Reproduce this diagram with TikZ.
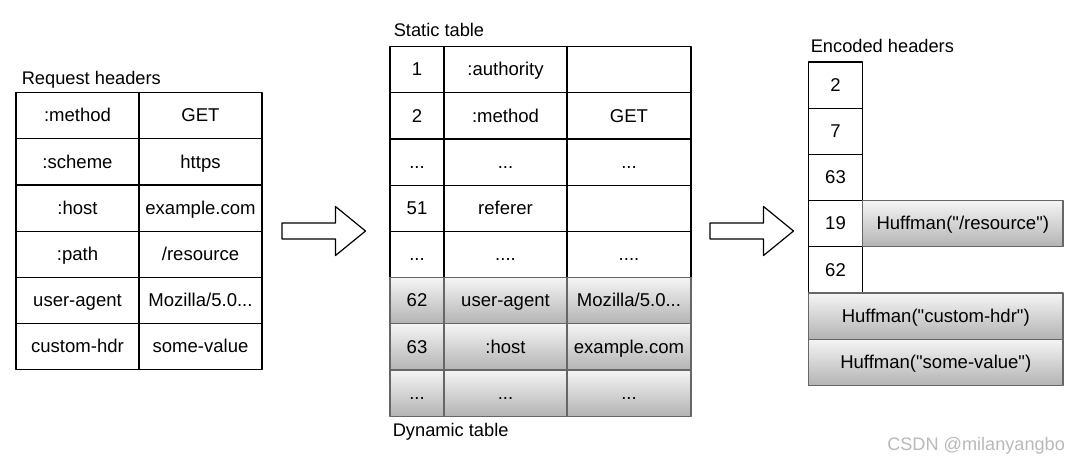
\documentclass[tikz,border=0pt]{standalone}
\usepackage{fontspec}
\setmainfont{Liberation Sans}[Ligatures=TeXOff]
\usetikzlibrary{positioning}
\definecolor{dyntop}{HTML}{F5F5F5}
\definecolor{dynbot}{HTML}{B3B3B3}
\definecolor{dynline}{HTML}{666666}
\newcommand{\tdots}{...}
\newcommand{\qdots}{....}
\tikzset{
  cell/.style={draw,line width=0.9pt,minimum height=34.65pt,inner sep=0pt,outer sep=0pt,text height=9.9pt,text depth=0.6pt,font=\fontsize{13.9}{16}\selectfont},
  dyncell/.style={cell,draw=dynline,top color=dyntop,bottom color=dynbot},
  tabtitle/.style={anchor=base west,inner sep=0pt,font=\fontsize{13.7}{16}\selectfont},
}
\begin{document}
\begin{tikzpicture}[x=0.75pt,y=-0.75pt,line join=round,line cap=round]
		\useasboundingbox (0,0) rectangle (1080,462);
		% request headers
		\node[tabtitle] (reqtitle) at (21.5,84) {Request headers};
		\foreach \n/\v [count=\r] in {:method/GET,:scheme/https,:host/example.com,:path/{/resource},user-agent/{Mozilla/5.0\tdots},custom-hdr/some-value}{
			\node[cell,minimum width=92.25pt] (reqn\r) at (77.5,{92.5+46.2*(\r-0.5)}) {\n};
			\node[cell,minimum width=92.25pt] (reqv\r) at (200.5,{92.5+46.2*(\r-0.5)}) {\v};}
		% static and dynamic table
		\node[tabtitle] (stattitle) at (393.5,36.7) {Static table};
		\foreach \i/\n/\v [count=\r] in {1/:authority/{},2/:method/GET,\tdots/\tdots/\tdots,51/referer/{},\tdots/\qdots/\qdots}{
			\node[cell,minimum width=40.5pt] (sti\r) at (417,{46.5+46.2*(\r-0.5)}) {\i};
			\node[cell,minimum width=92.25pt] (stn\r) at (505.5,{46.5+46.2*(\r-0.5)}) {\n};
			\node[cell,minimum width=93pt] (stv\r) at (629,{46.5+46.2*(\r-0.5)}) {\v};}
		\foreach \i/\n/\v [count=\r from 6] in {62/user-agent/{Mozilla/5.0\tdots},63/:host/example.com,\tdots/\tdots/\tdots}{
			\node[dyncell,minimum width=40.5pt] (sti\r) at (417,{46.5+46.2*(\r-0.5)}) {\i};
			\node[dyncell,minimum width=92.25pt] (stn\r) at (505.5,{46.5+46.2*(\r-0.5)}) {\n};
			\node[dyncell,minimum width=93pt] (stv\r) at (629,{46.5+46.2*(\r-0.5)}) {\v};}
		\node[tabtitle] (dyntitle) at (392.5,436.7) {Dynamic table};
		% encoded headers
		\node[tabtitle] (enctitle) at (810.5,52.5) {Encoded headers};
		\foreach \i [count=\r] in {2,7,63,19,62}{
			\node[cell,minimum width=40.5pt] (enc\r) at (835.5,{62+46.2*(\r-0.5)}) {\i};}
		\node[dyncell,minimum width=150.4pt,anchor=west] (huffres) at (enc4.east) {Huffman("/resource")};
		\node[dyncell,minimum width=190.9pt] (huffhdr) at (935.75,{62+46.2*5.5}) {Huffman("custom-hdr")};
		\node[dyncell,minimum width=190.9pt] (huffval) at (935.75,{62+46.2*6.5}) {Huffman("some-value")};
		% block arrows
		\foreach \s in {282,710}{
			\draw[line width=0.9pt,fill=white] (\s,223) -- ++(53.5,0) -- ++(0,-16.5) -- ++(30,24.5) -- ++(-30,24.5) -- ++(0,-16.5) -- ++(-53.5,0) -- cycle;}
		\node[tabtitle,text=gray!55,font=\fontsize{13.6}{15}\selectfont] (mark) at (887,450) {CSDN @milanyangbo};
\end{tikzpicture}
\end{document}
